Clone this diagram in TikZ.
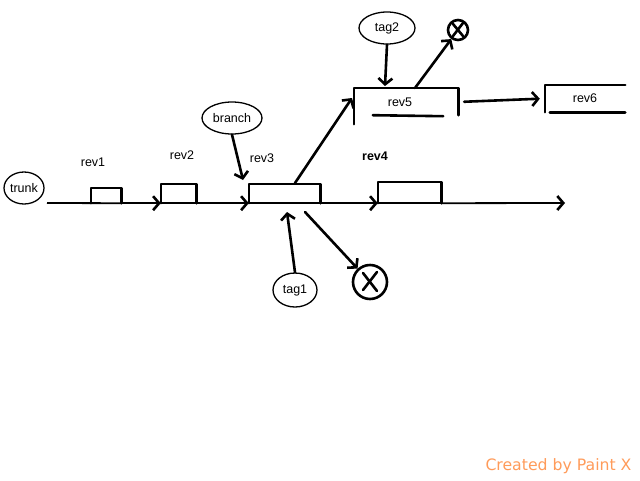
\documentclass[tikz,border=0pt]{standalone}
\usepackage{fontspec}
\setmainfont{Liberation Sans}
\newfontfamily\markfont{DejaVu Sans}
\usetikzlibrary{arrows.meta,shapes.geometric}

\definecolor{paintorange}{RGB}{255,155,90}

\tikzset{
  stroke/.style={line width=2.6pt, line cap=round, line join=round},
  flow/.style={stroke, -{Straight Barb[length=6pt,width=14pt]}},
  mainline/.style={line width=1.8pt},
  mainflow/.style={mainline, -{Straight Barb[length=6pt,width=14pt,line width=2.6pt]}},
  tagnode/.style={ellipse, draw, line width=1.3pt, inner sep=0pt,
    minimum height=32pt, font=\fontsize{12.5}{14}\selectfont},
  revbox/.style={inner sep=0pt, font=\fontsize{12.5}{14}\selectfont},
  revlabel/.style={font=\fontsize{12.5}{14}\selectfont},
  delnode/.style={circle, draw, line width=2.6pt, inner sep=0pt}
}

\begin{document}
\begin{tikzpicture}[x=1pt,y=-1pt]
\useasboundingbox (0,0) rectangle (640,480);

% =========================
% trunk line
% =========================
\node[tagnode, minimum width=40pt] (trunk) at (24,188) {trunk};
\coordinate (t0) at (47,203);
\coordinate (tend) at (565,203);

% revision boxes
\node[revbox, minimum width=30pt, minimum height=15pt] (r1) at (106,195.5) {};
\node[revbox, minimum width=35pt, minimum height=19pt] (r2) at (178.5,193.5) {};
\node[revbox, minimum width=71pt, minimum height=19pt] (r3) at (284.5,193.5) {};
\node[revbox, minimum width=63pt, minimum height=21pt] (r4) at (409.5,192.5) {};

% labels
\node[revlabel] (l1) at (93,162) {rev1};
\node[revlabel] (l2) at (182,155) {rev2};
\node[revlabel] (l3) at (262,158) {rev3};
\node[revlabel, font=\fontsize{12.5}{14}\selectfont\bfseries] (l4) at (375,156) {rev4};

% box outlines
\draw[stroke] (r1.south west) |- (r1.north east) -- (r1.south east);
\draw[stroke] (r2.south west) |- (r2.north east) -- (r2.south east);
\draw[stroke] (r3.south west) |- (r3.north east) -- (r3.south east);
\draw[stroke] (r4.south west) |- (r4.north east) -- (r4.south east);

% the line itself
\draw[mainline] (t0) -- (r1.south east);
\draw[mainflow] (r1.south east) -- (r2.south west);
\draw[mainline] (r2.south west) -- (r2.south east);
\draw[mainflow] (r2.south east) -- (r3.south west);
\draw[mainline] (r3.south west) -- (r3.south east);
\draw[mainflow] (r3.south east) -- (r4.south west);
\draw[mainline] (r4.south west) -- (r4.south east);
\draw[mainflow] (r4.south east) -- (tend);

% =========================
% branch
% =========================
\node[tagnode, minimum width=60pt] (branch) at (232,118) {branch};
\coordinate (b3) at (243,180);
\draw[flow] (branch.south) -- (b3);

\node[revbox, minimum width=104pt, minimum height=28pt] (r5) at (406,102) {\hspace*{-12pt}rev5};
\node[revbox, minimum width=80pt, minimum height=27pt] (r6) at (585,98.5) {rev6};

% rev5 outline
\draw[stroke] ([yshift=-8pt]r5.south west) |- (r5.north east) -- ([yshift=1pt]r5.south east);
\draw[stroke] ([xshift=19pt,yshift=1pt]r5.south west) -- ([xshift=-15pt]r5.south east);

% rev6 outline
\draw[stroke] (r6.north east) -| (r6.south west);
\draw[stroke] ([xshift=5pt]r6.south west) -- (r6.south east);

\coordinate (s3) at (295,183);
\coordinate (s5) at (352,98);
\draw[flow] (s3) -- (s5);
\draw[flow, shorten <=6pt, shorten >=5pt] (r5.east) -- (r6.west);

% =========================
% tags
% =========================
\node[tagnode, minimum width=56pt] (tag2) at (387,28) {tag2};
\coordinate (g5) at (385,86);
\draw[flow] (tag2.south) -- (g5);

\node[tagnode, minimum width=44pt, minimum height=34pt] (tag1) at (295,290) {tag1};
\coordinate (g3) at (287,212);
\draw[flow] (tag1.north) -- (g3);

% =========================
% deleted
% =========================
\node[delnode, minimum size=34pt] (del1) at (370,282) {};
\draw[stroke] (del1.center) ++(-7,-9) -- ++(14,18);
\draw[stroke] (del1.center) ++(7,-10) -- ++(-14,18);
\coordinate (d3) at (305,212);
\draw[flow] (d3) -- (del1);

\node[delnode, minimum size=20pt] (del2) at (458,30) {};
\draw[stroke] (del2.center) ++(-5,-6) -- ++(10,12);
\draw[stroke] (del2.center) ++(5,-7) -- ++(-10,13);
\coordinate (d5) at (415,88);
\draw[flow] (d5) -- (del2);

% watermark
\node[anchor=east, text=paintorange, font=\markfont\fontsize{15.7}{17}\selectfont] (mark) at (635,466) {Created by Paint X};

\end{tikzpicture}
\end{document}
